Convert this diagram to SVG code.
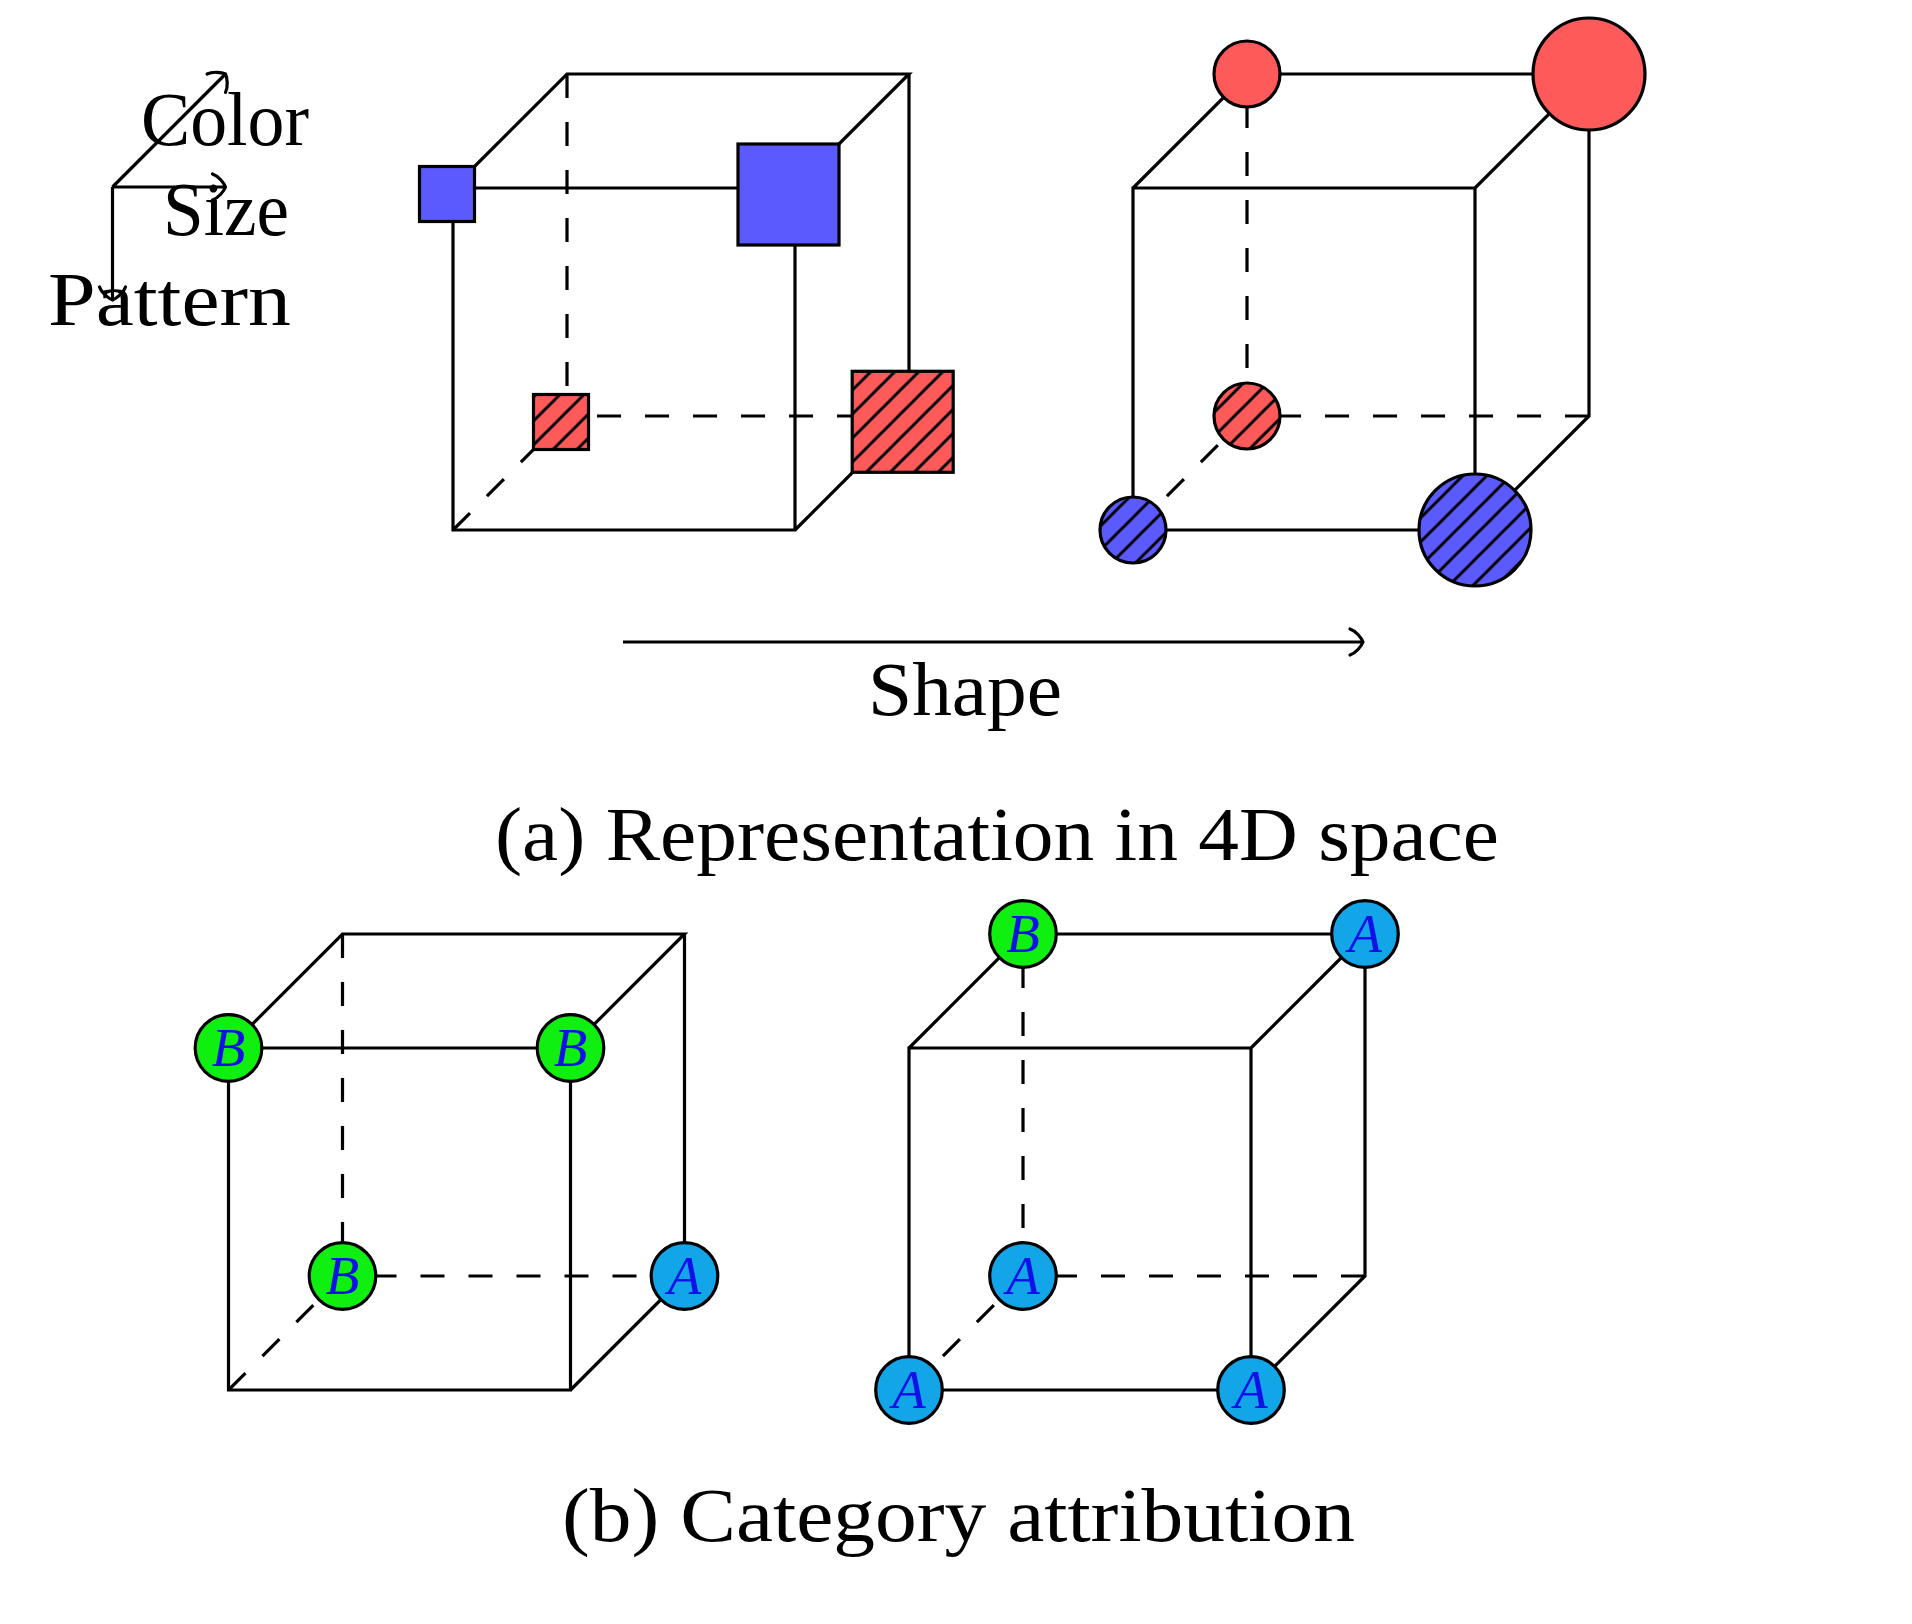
<svg xmlns="http://www.w3.org/2000/svg" width="1912" height="1624" viewBox="0 0 1912 1624">
<style>
.e{stroke:#000;stroke-width:3.2;fill:none;stroke-linecap:butt}
.d{stroke:#000;stroke-width:3.2;fill:none;stroke-dasharray:24 24}
.red{fill:#FF5A5A}
.blue{fill:#5A5AFF}
.hatch{fill:url(#hatch);stroke:#000;stroke-width:3.2}
.nb{stroke:#000;stroke-width:3.2}
.green{fill:#10F010;stroke:#000;stroke-width:3.2}
.cyan{fill:#12A5E8;stroke:#000;stroke-width:3.2}
.lbl{font-family:"Liberation Serif","Times New Roman",serif;font-size:76px;fill:#000}
.let{font-family:"Liberation Serif","Times New Roman",serif;font-style:italic;font-size:55px;fill:#1010E8;text-anchor:middle}
</style>
<defs>
<pattern id="hatch" patternUnits="userSpaceOnUse" width="24" height="24" patternTransform="translate(18.5,0)">
<path d="M-6,6 L6,-6 M0,24 L24,0 M18,30 L30,18" stroke="#000" stroke-width="3"/>
</pattern>
<marker id="to" markerUnits="userSpaceOnUse" markerWidth="40" markerHeight="40" viewBox="-20 -20 40 40" refX="0" refY="0" orient="auto" overflow="visible">
<path d="M-13,-13 C-7,-11 -1.5,-4 0,0 C-1.5,4 -7,11 -13,13" fill="none" stroke="#000" stroke-width="3.2" stroke-linecap="round"/>
</marker>
</defs>
<rect width="1912" height="1624" fill="#fff"/>

<g id="connectors">
<!-- axis legend -->
<line class="e" x1="112.5" y1="187" x2="225.5" y2="74" marker-end="url(#to)"/>
<line class="e" x1="112.5" y1="187" x2="225.5" y2="187" marker-end="url(#to)"/>
<line class="e" x1="112.5" y1="187" x2="112.5" y2="300" marker-end="url(#to)"/>
<!-- shape arrow -->
<line class="e" x1="623" y1="642" x2="1363" y2="642" marker-end="url(#to)"/>

<!-- cube A1 -->
<path class="e" d="M453,188 H795 V530 H453 Z M453,188 L567,74 H909 L795,188 M909,74 V416 L795,530"/>
<path class="d" d="M567,74 V416"/>
<path class="d" d="M909,416 H567"/>
<path class="d" d="M453,530 L567,416"/>

<!-- cube A2 -->
<path class="e" d="M1133,188 H1475 V530 H1133 Z M1133,188 L1247,74 H1589 L1475,188 M1589,74 V416 L1475,530"/>
<path class="d" d="M1247,416 V74"/>
<path class="d" d="M1589,416 H1247"/>
<path class="d" d="M1133,530 L1247,416"/>

<!-- cube B1 -->
<path class="e" d="M228.5,1048 H570.5 V1390 H228.5 Z M228.5,1048 L342.5,934 H684.5 L570.5,1048 M684.5,934 V1276 L570.5,1390"/>
<path class="d" d="M342.5,934 V1276"/>
<path class="d" d="M684.5,1276 H342.5"/>
<path class="d" d="M228.5,1390 L342.5,1276"/>

<!-- cube B2 -->
<path class="e" d="M909,1048 H1251 V1390 H909 Z M909,1048 L1023,934 H1365 L1251,1048 M1365,934 V1276 L1251,1390"/>
<path class="d" d="M1023,1276 V934"/>
<path class="d" d="M1365,1276 H1023"/>
<path class="d" d="M909,1390 L1023,1276"/>
</g>

<!-- legend labels -->
<g id="label-color"><text class="lbl" x="141" y="145" textLength="168" lengthAdjust="spacingAndGlyphs">Color</text></g>
<g id="label-size"><text class="lbl" x="163" y="235" textLength="126" lengthAdjust="spacingAndGlyphs">Size</text></g>
<g id="label-pattern"><text class="lbl" x="48" y="325" textLength="243" lengthAdjust="spacingAndGlyphs">Pattern</text></g>
<g id="label-shape"><text class="lbl" x="868" y="715" textLength="194" lengthAdjust="spacingAndGlyphs">Shape</text></g>

<!-- cube A1 nodes (squares) -->
<g id="a1-small-blue"><rect class="blue nb" x="419.5" y="166.5" width="55" height="55"/></g>
<g id="a1-big-blue"><rect class="blue nb" x="738" y="144" width="101" height="101"/></g>
<g id="a1-small-red"><rect class="red" x="533.5" y="394.5" width="55" height="55"/><rect class="hatch" x="533.5" y="394.5" width="55" height="55"/></g>
<g id="a1-big-red"><rect class="red" x="852.2" y="371.3" width="101" height="101"/><rect class="hatch" x="852.2" y="371.3" width="101" height="101"/></g>

<!-- cube A2 nodes (circles) -->
<g id="a2-small-red"><circle class="red nb" cx="1247" cy="74" r="33"/></g>
<g id="a2-big-red"><circle class="red nb" cx="1589" cy="74" r="56"/></g>
<g id="a2-small-red-hatched"><circle class="red" cx="1247" cy="416" r="33"/><circle class="hatch" cx="1247" cy="416" r="33"/></g>
<g id="a2-small-blue-hatched"><circle class="blue" cx="1133" cy="530" r="33"/><circle class="hatch" cx="1133" cy="530" r="33"/></g>
<g id="a2-big-blue-hatched"><circle class="blue" cx="1475" cy="530" r="56"/><circle class="hatch" cx="1475" cy="530" r="56"/></g>

<!-- caption a -->
<g id="caption-a"><text class="lbl" x="495" y="860" textLength="1004" lengthAdjust="spacingAndGlyphs">(a) Representation in 4D space</text></g>

<!-- cube B1 nodes -->
<g id="b1-ftl"><circle class="green" cx="228.5" cy="1048" r="33.3"/><text class="let" x="228.5" y="1066">B</text></g>
<g id="b1-ftr"><circle class="green" cx="570.5" cy="1048" r="33.3"/><text class="let" x="570.5" y="1066">B</text></g>
<g id="b1-bbl"><circle class="green" cx="342.5" cy="1276" r="33.3"/><text class="let" x="342.5" y="1294">B</text></g>
<g id="b1-bbr"><circle class="cyan" cx="684.5" cy="1276" r="33.3"/><text class="let" x="684.5" y="1294">A</text></g>

<!-- cube B2 nodes -->
<g id="b2-btl"><circle class="green" cx="1023" cy="934" r="33.3"/><text class="let" x="1023" y="952">B</text></g>
<g id="b2-btr"><circle class="cyan" cx="1365" cy="934" r="33.3"/><text class="let" x="1365" y="952">A</text></g>
<g id="b2-bbl"><circle class="cyan" cx="1023" cy="1276" r="33.3"/><text class="let" x="1023" y="1294">A</text></g>
<g id="b2-fbl"><circle class="cyan" cx="909" cy="1390" r="33.3"/><text class="let" x="909" y="1408">A</text></g>
<g id="b2-fbr"><circle class="cyan" cx="1251" cy="1390" r="33.3"/><text class="let" x="1251" y="1408">A</text></g>

<!-- caption b -->
<g id="caption-b"><text class="lbl" x="562" y="1541" textLength="793" lengthAdjust="spacingAndGlyphs">(b) Category attribution</text></g>
</svg>
